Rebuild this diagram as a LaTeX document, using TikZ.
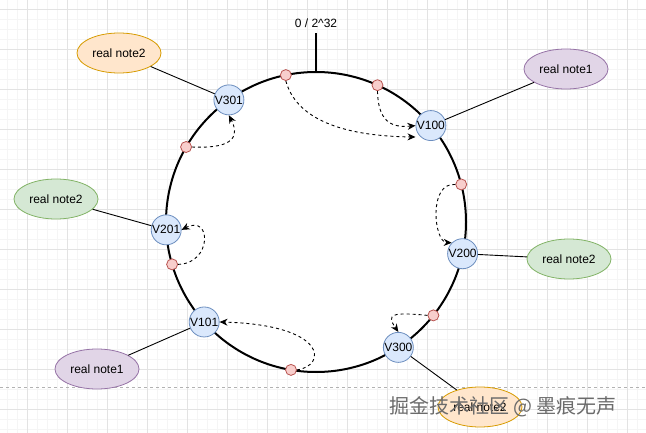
\documentclass[tikz,border=0pt]{standalone}
\usepackage{fontspec}
\setmainfont{Liberation Sans}
\newfontfamily\cjkfont{Noto Sans CJK SC}
\usetikzlibrary{shapes.geometric,arrows.meta,calc}
\definecolor{gridmaj}{HTML}{E3E3E3}
\definecolor{gridmin}{HTML}{F5F5F5}
\definecolor{vfill}{HTML}{DAE8FC}
\definecolor{vdraw}{HTML}{6C8EBF}
\definecolor{dfill}{HTML}{F8CECC}
\definecolor{ddraw}{HTML}{B85450}
\definecolor{ofill}{HTML}{FFE6CC}
\definecolor{odraw}{HTML}{D79B00}
\definecolor{pfill}{HTML}{E1D5E7}
\definecolor{pdraw}{HTML}{9673A6}
\definecolor{gfill}{HTML}{D5E8D4}
\definecolor{gdraw}{HTML}{82B366}
\tikzset{
  vnode/.style={circle, minimum size=30pt, inner sep=0pt, fill=vfill, draw=vdraw, line width=0.8pt, font=\fontsize{12}{14}\selectfont},
  hashdot/.style={circle, minimum size=11pt, inner sep=0pt, fill=dfill, draw=ddraw, line width=0.8pt},
  note/.style={ellipse, minimum width=84pt, minimum height=40pt, inner sep=0pt, draw, line width=0.8pt, font=\fontsize{12}{14}\selectfont},
  onote/.style={note, fill=ofill, draw=odraw},
  pnote/.style={note, fill=pfill, draw=pdraw},
  gnote/.style={note, fill=gfill, draw=gdraw},
  link/.style={line width=0.9pt, black},
  jump/.style={dashed, dash pattern=on 3pt off 3pt, line width=0.9pt, -{Stealth[length=8pt,width=7pt]}},
}
\begin{document}
\begin{tikzpicture}[x=1pt,y=-1pt]
\useasboundingbox (0,0) rectangle (646,433);
\fill[white] (0,0) rectangle (646,433);
% grid
\foreach \x in {7,17,...,646} \draw[gridmin, line width=0.6pt] (\x,0) -- (\x,433);
\foreach \y in {9,19,...,433} \draw[gridmin, line width=0.6pt] (0,\y) -- (646,\y);
\foreach \x in {27,67,...,646} \draw[gridmaj, line width=0.9pt] (\x,0) -- (\x,433);
\foreach \y in {9,49,...,433} \draw[gridmaj, line width=0.9pt] (0,\y) -- (646,\y);
\draw[gray!60, dashed, dash pattern=on 3pt off 3pt, line width=0.8pt] (0,387) -- (646,387);
% ring
\coordinate (c) at (316,222);
\draw[fill=white, line width=2pt] (c) circle[radius=150];
\coordinate (tickbot) at (316,72);
\coordinate (ticktop) at (316,33);
\draw[line width=2pt] (tickbot) -- (ticktop);
\node[font=\fontsize{12}{14}\selectfont, anchor=south, inner sep=2pt] (zero) at (316,30) {0 / 2\textasciicircum 32};
% hash points
\node[hashdot] (d1) at ($(c)+(-101.6:150)$) {};
\node[hashdot] (d2) at ($(c)+(-65.8:150)$) {};
\node[hashdot] (d3) at ($(c)+(-14.5:150)$) {};
\node[hashdot] (d4) at ($(c)+(38.5:150)$) {};
\node[hashdot] (d5) at ($(c)+(99.6:150)$) {};
\node[hashdot] (d6) at ($(c)+(163.6:150)$) {};
\node[hashdot] (d7) at ($(c)+(-150:150)$) {};
% virtual nodes
\node[vnode] (v301) at ($(c)+(-125.5:150)$) {V301};
\node[vnode] (v100) at ($(c)+(-40:150)$) {V100};
\node[vnode] (v200) at ($(c)+(12.2:150)$) {V200};
\node[vnode] (v300) at ($(c)+(56.7:150)$) {V300};
\node[vnode] (v101) at ($(c)+(138.2:150)$) {V101};
\node[vnode] (v201) at ($(c)+(177:150)$) {V201};
% real notes
\node[onote] (n1) at (119,53) {real note2};
\node[pnote] (n2) at (566,69) {real note1};
\node[gnote] (n3) at (56,199) {real note2};
\node[gnote] (n4) at (569,259) {real note2};
\node[pnote] (n5) at (97,369) {real note1};
\node[onote] (n6) at (480,407) {real note2};
\draw[link] (n1) -- (v301);
\draw[link] (n2) -- (v100);
\draw[link] (n3) -- (v201);
\draw[link] (n4) -- (v200);
\draw[link] (n5) -- (v101);
\draw[link] (n6) -- (v300);
% redirect arrows
\draw[jump] (d1.south) .. controls (296,118) and (340,136) .. (v100.west |- 0,137);
\draw[jump] (d2.south) .. controls (378,122) and (392,128) .. (v100.west);
\draw[jump] (d7.east) .. controls (236,149) and (239,135) .. (v301.south);
\draw[jump] (d3.west) .. controls (428,182) and (434,242) .. (v200.north west);
\draw[jump] (d4.west) .. controls (392,312) and (386,314) .. (v300.north);
\draw[jump] (d6.east) .. controls (212,264) and (212,214) .. (v201.east);
\draw[jump] (d5.east) .. controls (327,366) and (328,325) .. (v101.east);
% watermark
\node[font=\cjkfont\fontsize{20}{22}\selectfont, text=black!58, anchor=center] (wm) at (503,407) {掘金技术社区 @ 墨痕无声};
\end{tikzpicture}
\end{document}
